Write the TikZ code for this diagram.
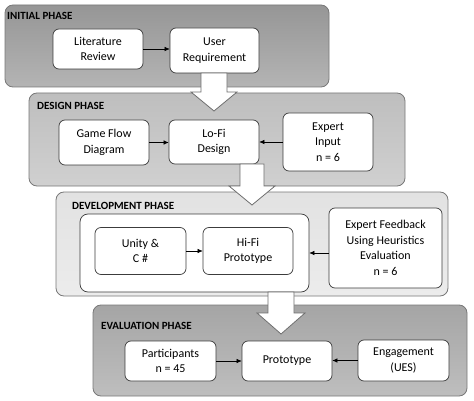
\documentclass[tikz,border=0pt]{standalone}
\usepackage{fontspec}
\setmainfont{Carlito}
\usetikzlibrary{calc,arrows.meta}
\definecolor{inTop}{RGB}{150,150,150}
\definecolor{inBot}{RGB}{180,180,180}
\definecolor{deTop}{RGB}{190,190,190}
\definecolor{deBot}{RGB}{208,208,208}
\definecolor{dvTop}{RGB}{226,226,226}
\definecolor{dvBot}{RGB}{236,236,236}
\definecolor{evTop}{RGB}{165,165,165}
\definecolor{evBot}{RGB}{190,190,190}
\definecolor{phaseLine}{RGB}{120,120,120}
\definecolor{boxLine}{RGB}{60,60,60}
\definecolor{bigArrowLine}{RGB}{110,110,110}
\begin{document}
\begin{tikzpicture}[x=1pt,y=-1pt,
  phase/.style={draw=phaseLine, rounded corners=8pt, line width=0.8pt, minimum width=#1, inner sep=0pt},
  wbox/.style={draw=boxLine, fill=white, rounded corners=6pt, line width=0.7pt, align=center,
     font=\fontsize{12}{15.5}\selectfont, inner sep=0pt},
  ptitle/.style={font=\bfseries\fontsize{11}{13}\selectfont, anchor=west, inner sep=0pt},
  conn/.style={-{Latex[length=5pt,width=4.5pt]}, line width=0.5pt},
  barrow/.style={draw=bigArrowLine, fill=white, line width=0.8pt, line join=miter}]
\useasboundingbox (0,0) rectangle (474,401);

% phase boxes
\node[phase=324pt, minimum height=82pt, top color=inTop, bottom color=inBot] (initial) at (167,46) {};
\node[phase=376pt, minimum height=93pt, top color=deTop, bottom color=deBot] (design) at (217,139.5) {};
\node[phase=392pt, minimum height=104pt, top color=dvTop, bottom color=dvBot] (dev) at (252,244) {};
\node[phase=374pt, minimum height=91pt, top color=evTop, bottom color=evBot] (eval) at (280,350.5) {};

% titles
\node[ptitle] (tInitial) at (7,16) {INITIAL PHASE};
\node[ptitle] (tDesign) at (37,106) {DESIGN PHASE};
\node[ptitle] (tDev) at (72,206) {DEVELOPMENT PHASE};
\node[ptitle] (tEval) at (101,326) {EVALUATION PHASE};

% initial
\node[wbox, minimum width=90pt, minimum height=40pt] (lit) at (98,49) {Literature\\Review};
\node[wbox, minimum width=89pt, minimum height=45pt] (ur) at (214.5,50.5) {User\\Requirement};
\draw[conn] (lit.east) -- (lit.east -| ur.west);

% design
\node[wbox, minimum width=90pt, minimum height=45pt] (gfd) at (104,142.5) {Game Flow\\Diagram};
\node[wbox, minimum width=90pt, minimum height=44pt] (lofi) at (214,142) {Lo-Fi\\Design};
\node[wbox, minimum width=90pt, minimum height=58pt] (ei) at (328,142) {Expert\\Input\\n = 6};
\draw[conn] (gfd.east) -- (gfd.east -| lofi.west);
\draw[conn] (ei.west) -- (ei.west -| lofi.east);

% development
\node[wbox, rounded corners=8pt, minimum width=229pt, minimum height=78pt] (inner) at (194.5,253) {};
\node[wbox, minimum width=91pt, minimum height=47pt] (unity) at (140.5,251) {Unity \&\\C \#};
\node[wbox, minimum width=90pt, minimum height=47pt] (hifi) at (248,251) {Hi-Fi\\Prototype};
\node[wbox, minimum width=113pt, minimum height=80pt] (ef) at (385.5,248) {Expert Feedback\\Using Heuristics\\Evaluation\\n = 6};
\draw[conn] (unity.east) -- (unity.east -| hifi.west);
\draw[conn] (ef.west |- inner.east) -- (inner.east);

% evaluation
\node[wbox, minimum width=91pt, minimum height=40pt] (part) at (170.5,361) {Participants\\n = 45};
\node[wbox, minimum width=90pt, minimum height=40pt] (proto) at (287,361) {Prototype};
\node[wbox, minimum width=91pt, minimum height=41pt] (eng) at (403.5,360.5) {Engagement\\(UES)};
\draw[conn] (part.east) -- (part.east -| proto.west);
\draw[conn] (eng.west) -- (eng.west -| proto.east);

% block arrows between phases
\draw[barrow] (201,73) -- (227,73) -- (227,92) -- (237,92) -- (214,111) -- (191,92) -- (201,92) -- cycle;
\draw[barrow] (240,164) -- (264,164) -- (264,186) -- (275,186) -- (252,205) -- (229,186) -- (240,186) -- cycle;
\draw[barrow] (268,292) -- (294,292) -- (294,313) -- (305,313) -- (281,334) -- (257,313) -- (268,313) -- cycle;
\end{tikzpicture}
\end{document}
